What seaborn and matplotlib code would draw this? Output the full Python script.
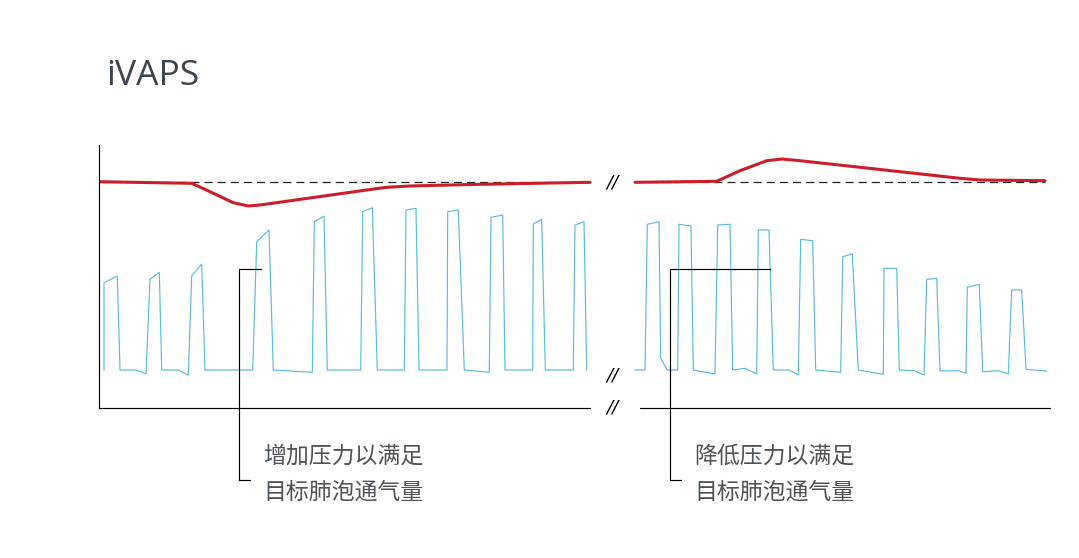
"""
iVAPS schematic: target pressure (red) and breath pressure waveform (blue)
"""
import seaborn as sns
import matplotlib.pyplot as plt

# Time axis and values (arbitrary units, 0 = axis origin).
target_level = 225.7

red_left_t = [0, 92.7, 111, 134.3, 149.3, 161, 267.7, 287.7, 311, 381, 491]
red_left_v = [226.3, 224.7, 216.3, 205.3, 202, 203, 218, 220.7, 222, 223.7,
              225.7]
red_right_t = [536, 617.7, 641, 667.7, 682.7, 701, 861, 881, 946]
red_right_v = [225.7, 226.7, 237.3, 247.3, 249, 247.3, 229.7, 228, 227.3]

blue_left_t = [5, 5, 18.3, 21, 37, 47, 51, 60.3, 62.7, 79.3, 89.3, 92.7, 102.7,
               106, 153.7, 157.7, 170, 174.3, 213.3, 215.3, 225, 228.3, 261.7,
               263.7, 273.3, 278.3, 305.3, 307, 317, 320, 348, 348.7, 359.3,
               365.3, 390.3, 392, 403.7, 406, 433.7, 434.3, 442.7, 446.3,
               474.3, 476, 485, 487.7]
blue_left_v = [38, 125.3, 132, 38, 38, 34, 128.7, 135.7, 38, 38, 32.7, 132, 144,
               38, 38, 166.3, 178, 38, 35.7, 186.3, 191.7, 38, 38,
               196.3, 200.3, 38, 38, 198, 199.7, 38, 38, 196.3, 198,
               38, 35.7, 190.7, 193, 38, 38, 184, 188.7, 38,
               38, 183, 186.3, 38]
blue_right_t = [536, 546, 548.3, 560, 561.7, 568.3, 578.7, 580, 592, 594.3, 616,
                618.7, 631, 633.7, 646, 657.7, 659.3, 670, 674.3, 690, 699.3,
                701.7, 713.7, 716.7, 741.7, 743.7, 753.3, 759.3, 784.3, 785,
                797.7, 800.3, 815.3, 825, 827.7, 837.7, 841, 859.3, 867, 868.3,
                880.3, 883.7, 899.3, 909.3, 912.7, 922.7, 927, 947.7]
blue_right_v = [38, 38, 183.7, 186.3, 49.7, 38, 38, 183.7, 182, 38, 34,
                183, 183.7, 38, 39.7, 34, 178, 178, 38, 38, 33,
                168.7, 167.3, 38, 35.7, 151.3, 154, 38, 33.7, 139.7,
                139.7, 38, 37.3, 33, 128.7, 129.7, 37, 37.3, 34.7, 120.7,
                123.7, 36.3, 37.3, 34, 118, 118, 38.7, 37]

title = "iVAPS"
note_up = "增加压力以满足\n目标肺泡通气量"
note_down = "降低压力以满足\n目标肺泡通气量"

RED = "#cc1d2b"
BLUE = "#5bbbda"
TEXT = "#4d5459"

sns.set_theme(style="white")
plt.rcParams["font.family"] = ["Noto Sans CJK SC", "DejaVu Sans"]

fig = plt.figure(figsize=(10.79, 5.58), dpi=100)
ax = fig.add_axes([99 / 1079, 150 / 558, 951 / 1079, 263 / 558])
ax.set_xlim(0, 951)
ax.set_ylim(0, 263)
ax.axis("off")

# Target (dashed) reference line in both segments.
for t0, t1 in [(0, 491), (536, 946)]:
    ax.plot([t0, t1], [target_level, target_level], color="#222222", lw=0.9,
            dashes=(6.5, 4))

# Pressure waveform.
for t, v in [(blue_left_t, blue_left_v), (blue_right_t, blue_right_v)]:
    sns.lineplot(x=t, y=v, sort=False, estimator=None, color=BLUE, lw=0.85,
                 ax=ax)

# Target pressure curve.
for t, v in [(red_left_t, red_left_v), (red_right_t, red_right_v)]:
    sns.lineplot(x=t, y=v, sort=False, estimator=None, color=RED, lw=2.2,
                 solid_joinstyle="round", solid_capstyle="round", ax=ax)

# Axes drawn by hand because of the broken time axis.
ax.plot([0, 0], [0, 263], color="black", lw=0.85, clip_on=False)
ax.plot([0, 491], [0, 0], color="black", lw=0.85, clip_on=False)
ax.plot([541, 951], [0, 0], color="black", lw=0.85, clip_on=False)

# Break marks.
for yb in [225.5, 33, 1]:
    ax.text(513, yb, "//", ha="center", va="center", fontsize=13,
            color="black", family="DejaVu Sans", style="italic")

# Annotation brackets and notes.
for x0, x1, txt in [(140, 161.7, note_up), (571, 671, note_down)]:
    ax.plot([x1, x0, x0, x0 + 11], [139, 139, -72, -72], color="black",
            lw=0.85, clip_on=False)
    ax.text(x0 + 24, -66, txt, ha="left", va="center", fontsize=16.5,
            color=TEXT, linespacing=1.7, clip_on=False)

fig.text(106 / 1079, 1 - 85 / 558, title, ha="left", va="baseline",
         fontsize=25.5, color="#3b4650", family="Open Sans")

plt.savefig("out.png", dpi=100)
